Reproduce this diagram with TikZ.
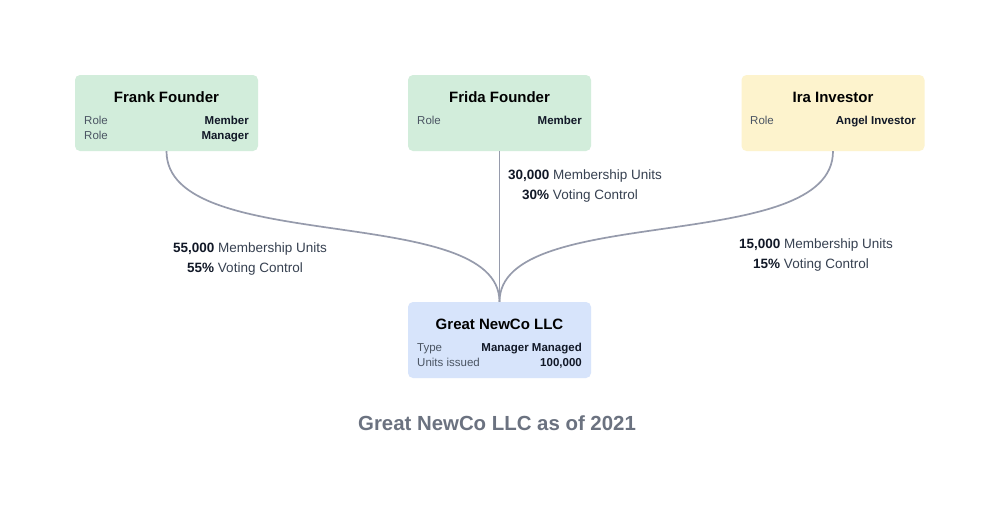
\documentclass[tikz,border=0pt]{standalone}
\usepackage{fontspec}
\setmainfont{Liberation Sans}
\usetikzlibrary{calc}
\definecolor{greenbox}{RGB}{210,237,219}
\definecolor{yellowbox}{RGB}{253,243,205}
\definecolor{bluebox}{RGB}{215,228,251}
\definecolor{keytext}{RGB}{75,85,99}
\definecolor{valtext}{RGB}{17,24,39}
\definecolor{lbltext}{RGB}{55,65,81}
\definecolor{linec}{RGB}{150,155,172}
\definecolor{titlec}{RGB}{107,114,128}
\tikzset{
  box/.style={draw=none, rounded corners=5pt, minimum width=183pt, minimum height=76pt, inner sep=0pt},
  ttl/.style={anchor=base, font=\fontsize{15}{18}\selectfont\bfseries, text=black, inner sep=0pt},
  key/.style={anchor=base west, font=\fontsize{11.5}{14}\selectfont, text=keytext, inner sep=0pt},
  val/.style={anchor=base east, font=\fontsize{11.5}{14}\selectfont\bfseries, text=valtext, inner sep=0pt},
  conn/.style={draw=linec, line width=1.7pt},
  elbl/.style={align=center, font=\fontsize{13.5}{19.5}\selectfont, text=lbltext, inner sep=0pt},
}
\begin{document}
\begin{tikzpicture}[x=1pt,y=-1pt]
\useasboundingbox (0,0) rectangle (1000,525);
\fill[white] (0,0) rectangle (1000,525);
% boxes
\node[box, fill=greenbox] (frank) at (166.5,113) {};
\node[box, fill=greenbox] (frida) at (499.5,113) {};
\node[box, fill=yellowbox] (ira) at (833,113) {};
\node[box, fill=bluebox] (newco) at (499.5,340) {};
% connectors
\draw[conn] (frank.south) .. controls ($(frank.south)+(0,105)$) and ($(newco.north)+(0,-100)$) .. (newco.north);
\draw[conn] (frida.south) -- (newco.north);
\draw[conn] (ira.south) .. controls ($(ira.south)+(0,105)$) and ($(newco.north)+(0,-100)$) .. (newco.north);
% Frank
\node[ttl] (frankt) at (166.5,102.5) {Frank Founder};
\node[key] (frankk1) at (84,124) {Role};
\node[val] (frankv1) at (249,124) {Member};
\node[key] (frankk2) at (84,139) {Role};
\node[val] (frankv2) at (249,139) {Manager};
% Frida
\node[ttl] (fridat) at (499.5,102.5) {Frida Founder};
\node[key] (fridak1) at (417,124) {Role};
\node[val] (fridav1) at (582,124) {Member};
% Ira
\node[ttl] (irat) at (833,102.5) {Ira Investor};
\node[key] (irak1) at (750,124) {Role};
\node[val] (irav1) at (916,124) {Angel Investor};
% NewCo
\node[ttl] (newcot) at (499.5,329.5) {Great NewCo LLC};
\node[key] (newcok1) at (417,351) {Type};
\node[val] (newcov1) at (582,351) {Manager Managed};
\node[key] (newcok2) at (417,366) {Units issued};
\node[val] (newcov2) at (582,366) {100,000};
% edge labels
\node[elbl] (l1) at (250,259) {\textbf{\color{valtext}55,000} Membership Units\\\textbf{\color{valtext}55\%} Voting Control\kern10pt};
\node[elbl] (l2) at (585,186) {\textbf{\color{valtext}30,000} Membership Units\\\textbf{\color{valtext}30\%} Voting Control\kern10pt};
\node[elbl] (l3) at (816,255) {\textbf{\color{valtext}15,000} Membership Units\\\textbf{\color{valtext}15\%} Voting Control\kern10pt};
% title
\node[anchor=base, font=\fontsize{20.4}{24}\selectfont\bfseries, text=titlec, inner sep=0pt] (title) at (497,430) {Great NewCo LLC as of 2021};
\end{tikzpicture}
\end{document}
